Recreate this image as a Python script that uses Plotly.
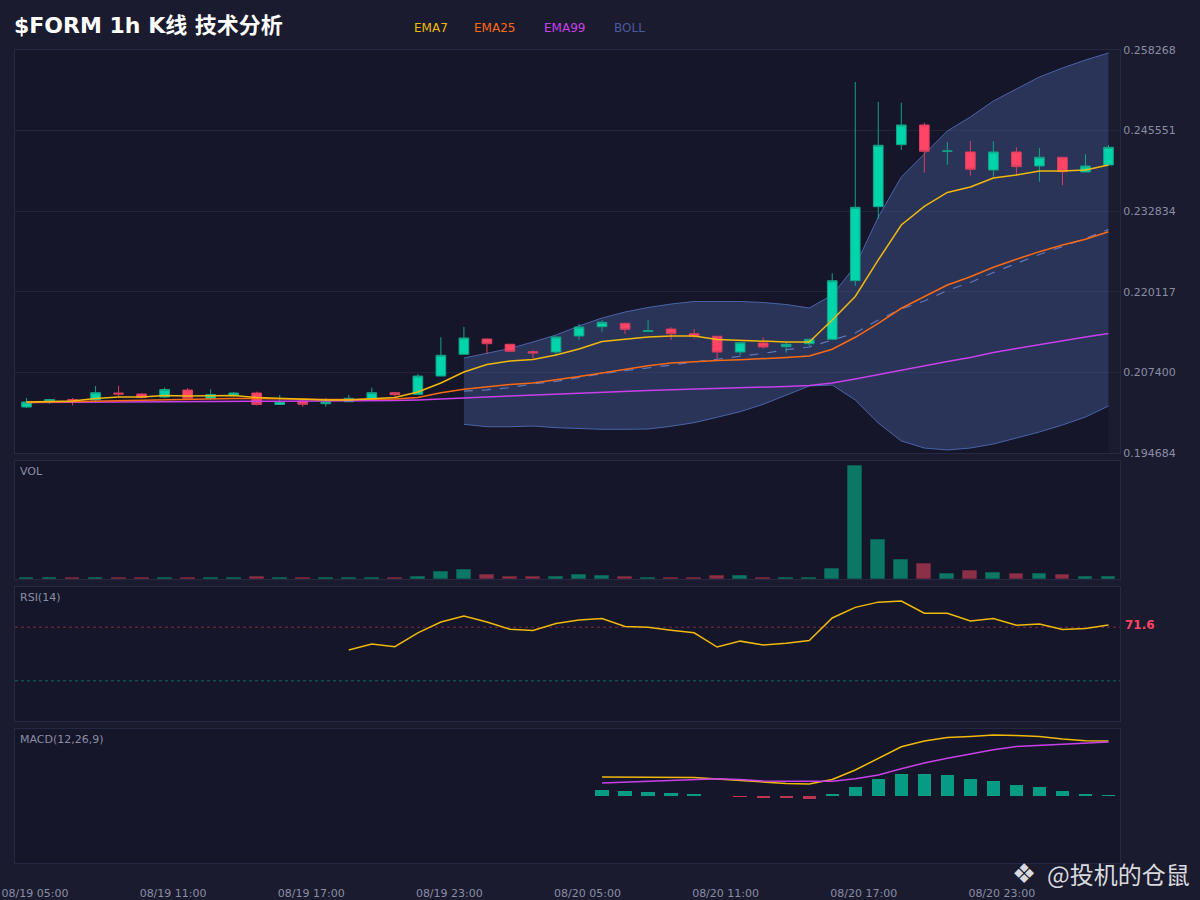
import plotly.graph_objects as go
import pandas as pd

# ---------------- data ----------------
times = pd.date_range("2025-08-19 05:00", periods=48, freq="h")

opens = [0.20194, 0.20265, 0.20313, 0.20305, 0.20415, 0.20399, 0.20352, 0.20462, 0.20328, 0.20373,
         0.20415, 0.20234, 0.20289, 0.20246, 0.20278, 0.20320, 0.20420, 0.20395, 0.20683, 0.21026,
         0.21267, 0.21184, 0.21067, 0.21062, 0.21314, 0.21461, 0.21515, 0.21385, 0.21425, 0.21351,
         0.21310, 0.21062, 0.21204, 0.21146, 0.21193, 0.21262, 0.22187, 0.23355, 0.24333, 0.24644,
         0.24229, 0.24218, 0.23934, 0.24218, 0.23997, 0.24134, 0.23902, 0.24013]
highs = [0.20336, 0.20320, 0.20336, 0.20526, 0.20530, 0.20415, 0.20499, 0.20494, 0.20474, 0.20431,
         0.20436, 0.20384, 0.20320, 0.20336, 0.20384, 0.20499, 0.20431, 0.20715, 0.21294, 0.21456,
         0.21270, 0.21188, 0.21094, 0.21307, 0.21504, 0.21567, 0.21520, 0.21567, 0.21452, 0.21425,
         0.21314, 0.21220, 0.21294, 0.21220, 0.21272, 0.22304, 0.25322, 0.25007, 0.24995, 0.24680,
         0.24375, 0.24391, 0.24386, 0.24292, 0.24281, 0.24139, 0.24181, 0.24328]
lows = [0.20178, 0.20242, 0.20218, 0.20257, 0.20357, 0.20331, 0.20336, 0.20316, 0.20305, 0.20357,
        0.20221, 0.20226, 0.20199, 0.20199, 0.20273, 0.20294, 0.20357, 0.20384, 0.20683, 0.21026,
        0.21030, 0.21062, 0.20956, 0.20999, 0.21251, 0.21382, 0.21346, 0.21382, 0.21251, 0.21272,
        0.20963, 0.21010, 0.21114, 0.21051, 0.21157, 0.21262, 0.22103, 0.23165, 0.24249, 0.23891,
        0.24017, 0.23844, 0.23828, 0.23839, 0.23749, 0.23692, 0.23902, 0.24013]
closes = [0.20273, 0.20313, 0.20289, 0.20420, 0.20399, 0.20344, 0.20470, 0.20331, 0.20391, 0.20415,
          0.20234, 0.20281, 0.20237, 0.20278, 0.20331, 0.20420, 0.20388, 0.20683, 0.21010, 0.21283,
          0.21193, 0.21073, 0.21046, 0.21299, 0.21456, 0.21531, 0.21420, 0.21398, 0.21351, 0.21310,
          0.21062, 0.21209, 0.21141, 0.21184, 0.21262, 0.22187, 0.23345, 0.24323, 0.24644, 0.24229,
          0.24233, 0.23945, 0.24218, 0.23986, 0.24134, 0.23907, 0.23997, 0.24292]
volumes = [18, 18, 33, 33, 33, 33, 18, 18, 18, 18, 58, 33, 18, 18, 18, 33, 18, 43, 183, 233,
           93, 43, 43, 43, 93, 68, 58, 33, 33, 25, 83, 83, 33, 25, 33, 258, 2833, 983, 475, 383,
           125, 208, 150, 133, 133, 93, 43, 43]

ema7 = [0.20273, 0.20281, 0.20289, 0.20328, 0.20352, 0.20352, 0.20376, 0.20368, 0.20368, 0.20376,
        0.20344, 0.20328, 0.20313, 0.20305, 0.20305, 0.20328, 0.20344, 0.20431, 0.20573, 0.20746,
        0.20865, 0.20920, 0.20944, 0.21015, 0.21109, 0.21228, 0.21267, 0.21299, 0.21314, 0.21314,
        0.21259, 0.21243, 0.21228, 0.21220, 0.21220, 0.21567, 0.21938, 0.22514, 0.23066, 0.23358,
        0.23579, 0.23665, 0.23807, 0.23855, 0.23918, 0.23918, 0.23934, 0.24013]
ema25 = [0.20265, 0.20273, 0.20281, 0.20289, 0.20297, 0.20305, 0.20313, 0.20320, 0.20320, 0.20328,
         0.20328, 0.20320, 0.20313, 0.20313, 0.20313, 0.20313, 0.20320, 0.20344, 0.20420, 0.20474,
         0.20515, 0.20549, 0.20573, 0.20620, 0.20675, 0.20731, 0.20786, 0.20846, 0.20888, 0.20912,
         0.20928, 0.20941, 0.20956, 0.20975, 0.20999, 0.21105, 0.21294, 0.21515, 0.21752, 0.21935,
         0.22119, 0.22250, 0.22398, 0.22525, 0.22645, 0.22750, 0.22840, 0.22960]
ema99 = [0.20265, 0.20268, 0.20270, 0.20273, 0.20275, 0.20276, 0.20278, 0.20280, 0.20281, 0.20283,
         0.20284, 0.20286, 0.20286, 0.20287, 0.20289, 0.20292, 0.20297, 0.20305, 0.20317, 0.20331,
         0.20352, 0.20368, 0.20384, 0.20399, 0.20415, 0.20431, 0.20444, 0.20455, 0.20466, 0.20475,
         0.20485, 0.20494, 0.20505, 0.20518, 0.20533, 0.20573, 0.20636, 0.20707, 0.20778, 0.20849,
         0.20912, 0.20975, 0.21054, 0.21117, 0.21180, 0.21243, 0.21299, 0.21354]

boll_start = 19
boll_upper = [0.20967, 0.21046, 0.21117, 0.21220, 0.21330, 0.21472, 0.21598, 0.21693, 0.21764, 0.21819,
              0.21859, 0.21859, 0.21859, 0.21843, 0.21811, 0.21756, 0.21961, 0.22419, 0.23192, 0.23823,
              0.24186, 0.24549, 0.24770, 0.25022, 0.25212, 0.25401, 0.25543, 0.25669, 0.25780]
boll_mid = [0.20444, 0.20465, 0.20500, 0.20557, 0.20599, 0.20662, 0.20720, 0.20768, 0.20806, 0.20855,
            0.20903, 0.20946, 0.20990, 0.21040, 0.21098, 0.21141, 0.21251, 0.21362, 0.21567, 0.21741,
            0.21867, 0.22033, 0.22159, 0.22316, 0.22459, 0.22601, 0.22727, 0.22853, 0.22995]
boll_lower = [0.19921, 0.19883, 0.19883, 0.19894, 0.19868, 0.19852, 0.19842, 0.19842, 0.19847, 0.19890,
              0.19947, 0.20032, 0.20120, 0.20237, 0.20384, 0.20526, 0.20541, 0.20305, 0.19942, 0.19658,
              0.19547, 0.19516, 0.19547, 0.19610, 0.19705, 0.19800, 0.19910, 0.20036, 0.20210]

rsi_start = 14
rsi14 = [53.0, 57.4, 55.4, 65.8, 73.9, 78.4, 73.9, 68.5, 67.5, 72.7, 75.4, 76.4, 70.5, 70.0, 67.8,
         65.8, 55.2, 59.6, 56.7, 58.1, 60.1, 76.9, 84.8, 88.7, 89.5, 80.4, 80.4, 74.7, 76.4, 71.5,
         72.4, 68.3, 69.0, 71.6]
rsi_levels = [70, 30]

macd_start = 25
macd_dif = [0.00285, 0.00285, 0.00285, 0.00281, 0.00278, 0.00255, 0.00233, 0.00203, 0.00188, 0.00180,
            0.00248, 0.00390, 0.00566, 0.00740, 0.00825, 0.00878, 0.00893, 0.00915, 0.00908, 0.00893,
            0.00855, 0.00830, 0.00825]
macd_dea = [0.00195, 0.00210, 0.00225, 0.00240, 0.00252, 0.00260, 0.00248, 0.00225, 0.00222, 0.00221,
            0.00222, 0.00260, 0.00315, 0.00410, 0.00495, 0.00567, 0.00633, 0.00695, 0.00743, 0.00762,
            0.00780, 0.00800, 0.00810]
macd_hist = [0.00090, 0.00075, 0.00060, 0.00041, 0.00026, -0.00005, -0.00015, -0.00023, -0.00035, -0.00041,
             0.00026, 0.00131, 0.00251, 0.00330, 0.00330, 0.00311, 0.00260, 0.00221, 0.00165, 0.00131,
             0.00075, 0.00030, 0.00015]

tick_idx = [0, 6, 12, 18, 24, 30, 36, 42]
tick_labels = ["08/19 05:00", "08/19 11:00", "08/19 17:00", "08/19 23:00",
               "08/20 05:00", "08/20 11:00", "08/20 17:00", "08/20 23:00"]
price_ticks = [0.194684, 0.207400, 0.220117, 0.232834, 0.245551, 0.258268]

# ---------------- style ----------------
BG = "#1a1b2e"
PANEL = "#151629"
BORDER = "#272944"
GRID = "#22243c"
TXT = "#8b8da6"
UP = "#00d4aa"
DOWN = "#ff4466"
C_EMA7 = "#f0b90b"
C_EMA25 = "#fa6a14"
C_EMA99 = "#c840e9"
C_BOLL = "#4a64aa"
FONT = "DejaVu Sans, Noto Sans CJK SC, sans-serif"

W, H = 1200, 900
XL, XR = 15, 1120
panels = {"y": (50, 453), "y2": (461, 579), "y3": (587, 721), "y4": (729, 863)}


def dom(top, bottom):
    return [1 - bottom / H, 1 - top / H]


half = pd.Timedelta(minutes=30)
xrange_ = [times[0] - half, times[-1] + half]

fig = go.Figure()

# Bollinger band on the base price axis (drawn below the candles)
bt = times[boll_start:]
fig.add_trace(go.Scatter(x=bt, y=boll_upper, mode="lines", line=dict(color=C_BOLL, width=1),
                         hoverinfo="skip", xaxis="x", yaxis="y"))
fig.add_trace(go.Scatter(x=bt, y=boll_lower, mode="lines", line=dict(color=C_BOLL, width=1),
                         fill="tonexty", fillcolor="rgba(74,95,160,0.40)", hoverinfo="skip",
                         xaxis="x", yaxis="y"))
fig.add_trace(go.Scatter(x=bt, y=boll_mid, mode="lines",
                         line=dict(color="#6378bb", width=1.2, dash="dash"), xaxis="x", yaxis="y"))

# candles + EMAs on an overlaying price axis (drawn above the band)
fig.add_trace(go.Candlestick(
    x=times, open=opens, high=highs, low=lows, close=closes,
    increasing=dict(line=dict(color="#13a386", width=1), fillcolor=UP),
    decreasing=dict(line=dict(color="#d63f5e", width=1), fillcolor=DOWN),
    whiskerwidth=0, xaxis="x", yaxis="y5"))
fig.add_trace(go.Scatter(x=times, y=ema99, mode="lines", line=dict(color=C_EMA99, width=1.5),
                         xaxis="x", yaxis="y5"))
fig.add_trace(go.Scatter(x=times, y=ema25, mode="lines", line=dict(color=C_EMA25, width=1.5),
                         xaxis="x", yaxis="y5"))
fig.add_trace(go.Scatter(x=times, y=ema7, mode="lines", line=dict(color=C_EMA7, width=1.5),
                         xaxis="x", yaxis="y5"))

# volume
vol_colors = ["#0b7866" if c >= o else "#8c2f48" for o, c in zip(opens, closes)]
vol_lines = ["#0a5c4f" if c >= o else "#6a2538" for o, c in zip(opens, closes)]
fig.add_trace(go.Bar(x=times, y=volumes, marker=dict(color=vol_colors, line=dict(color=vol_lines, width=1)),
                     width=0.6 * 3600 * 1000, xaxis="x2", yaxis="y2"))

# RSI
rt = times[rsi_start:]
fig.add_trace(go.Scatter(x=rt, y=rsi14, mode="lines", line=dict(color=C_EMA7, width=1.5),
                         xaxis="x3", yaxis="y3"))

# MACD
mt = times[macd_start:]
hist_colors = ["rgba(0,212,170,0.70)" if v >= 0 else "rgba(255,68,102,0.70)" for v in macd_hist]
fig.add_trace(go.Bar(x=mt, y=macd_hist, marker=dict(color=hist_colors, line=dict(width=0)),
                     width=0.58 * 3600 * 1000, xaxis="x4", yaxis="y4"))
fig.add_trace(go.Scatter(x=mt, y=macd_dif, mode="lines", line=dict(color=C_EMA7, width=1.5),
                         xaxis="x4", yaxis="y4"))
fig.add_trace(go.Scatter(x=mt, y=macd_dea, mode="lines", line=dict(color=C_EMA99, width=1.5),
                         xaxis="x4", yaxis="y4"))

# axes
xdom = [XL / W, XR / W]
xbase = dict(range=xrange_, domain=xdom, showgrid=False, zeroline=False, showline=True, mirror=True,
             linecolor=BORDER, linewidth=1, showticklabels=False, ticks="", fixedrange=True,
             automargin=False)
ybase = dict(showgrid=False, zeroline=False, showline=True, mirror=True, linecolor=BORDER,
             linewidth=1, showticklabels=False, ticks="", fixedrange=True, automargin=False)

vmax = max(volumes)
mmax = max(max(abs(v) for v in macd_dif), max(abs(v) for v in macd_dea), max(abs(v) for v in macd_hist))
prange = [price_ticks[0], price_ticks[-1]]

layout = dict(
    width=W, height=H, autosize=False, paper_bgcolor=BG, plot_bgcolor=PANEL,
    margin=dict(l=0, r=0, t=0, b=0, pad=0, autoexpand=False), showlegend=False, boxgap=0.40, bargap=0,
    font=dict(family=FONT, color=TXT, size=11),
    xaxis=dict(xbase, anchor="y", rangeslider=dict(visible=False)),
    xaxis2=dict(xbase, anchor="y2", matches="x"),
    xaxis3=dict(xbase, anchor="y3", matches="x"),
    xaxis4=dict(xbase, anchor="y4", matches="x", showticklabels=True, ticks="outside", ticklen=20,
                tickcolor="rgba(0,0,0,0)",
                tickvals=[times[i] + pd.Timedelta(minutes=22) for i in tick_idx],
                ticktext=tick_labels, tickfont=dict(size=11, color=TXT, family=FONT)),
    yaxis=dict(ybase, anchor="x", domain=dom(*panels["y"]), range=prange,
               side="right", showticklabels=True, tickvals=price_ticks,
               ticktext=[f"{v:.6f}" for v in price_ticks], showgrid=True, gridcolor=GRID, gridwidth=1,
               tickfont=dict(size=11, color=TXT, family=FONT)),
    yaxis5=dict(overlaying="y", anchor="x", range=prange, showgrid=False, zeroline=False,
                showline=False, showticklabels=False, ticks="", fixedrange=True, automargin=False),
    yaxis2=dict(ybase, anchor="x2", domain=dom(*panels["y2"]), range=[0, vmax * 1.04]),
    yaxis3=dict(ybase, anchor="x3", domain=dom(*panels["y3"]), range=[0, 100]),
    yaxis4=dict(ybase, anchor="x4", domain=dom(*panels["y4"]), range=[-mmax * 1.1, mmax * 1.1]),
)
fig.update_layout(**layout)

shapes = [
    dict(type="rect", xref="x", yref="y domain", x0=times[-1], x1=times[-1] + half, y0=0, y1=1,
         fillcolor="#1b1c30", line=dict(width=0), layer="below"),
]
rsi_cols = ["rgba(255,68,102,0.45)", "rgba(0,212,170,0.45)"]
for lvl, col in zip(rsi_levels, rsi_cols):
    shapes.append(dict(type="line", xref="x3 domain", yref="y3", x0=0, x1=1, y0=lvl, y1=lvl,
                       line=dict(color=col, width=1, dash="dot"), layer="below"))
fig.update_layout(shapes=shapes)


def px2paper(x, y):
    return x / W, 1 - y / H


ann = []
tx, ty = px2paper(12, 25)
ann.append(dict(x=tx, y=ty, xref="paper", yref="paper", xanchor="left", yanchor="middle",
                text="<b>$FORM 1h K线 技术分析</b>", showarrow=False,
                font=dict(size=22, color="#ffffff", family=FONT)))
for label, col, lx in [("EMA7", C_EMA7, 412), ("EMA25", C_EMA25, 472), ("EMA99", C_EMA99, 542),
                       ("BOLL", "#4a5a9f", 612)]:
    ax, ay = px2paper(lx, 28)
    ann.append(dict(x=ax, y=ay, xref="paper", yref="paper", xanchor="left", yanchor="middle",
                    text=label, showarrow=False, font=dict(size=12, color=col, family=FONT)))
for label, py in [("VOL", 471), ("RSI(14)", 597), ("MACD(12,26,9)", 739)]:
    ax, ay = px2paper(18, py)
    ann.append(dict(x=ax, y=ay, xref="paper", yref="paper", xanchor="left", yanchor="middle",
                    text=label, showarrow=False, font=dict(size=11, color=TXT, family=FONT)))
ann.append(dict(x=1123 / W, y=rsi14[-1], xref="paper", yref="y3", xanchor="left", yanchor="middle",
                text=f"<b>{rsi14[-1]:.1f}</b>", showarrow=False, font=dict(size=12, color=DOWN, family=FONT)))
wx, wy = px2paper(1024, 873)
ann.append(dict(x=wx, y=wy, xref="paper", yref="paper", xanchor="center", yanchor="middle",
                text="❖", showarrow=False, font=dict(size=27, color="#d9d9df", family=FONT)))
wx, wy = px2paper(1045, 873)
ann.append(dict(x=wx, y=wy, xref="paper", yref="paper", xanchor="left", yanchor="middle",
                text="@投机的仓鼠", showarrow=False,
                font=dict(size=24, color="#d9d9df", family="Noto Sans CJK SC, DejaVu Sans")))
fig.update_layout(annotations=ann)

fig.write_html("out.html", config={"displayModeBar": False},
               post_script="document.body.style.margin='0';document.body.style.background='#1a1b2e';")
